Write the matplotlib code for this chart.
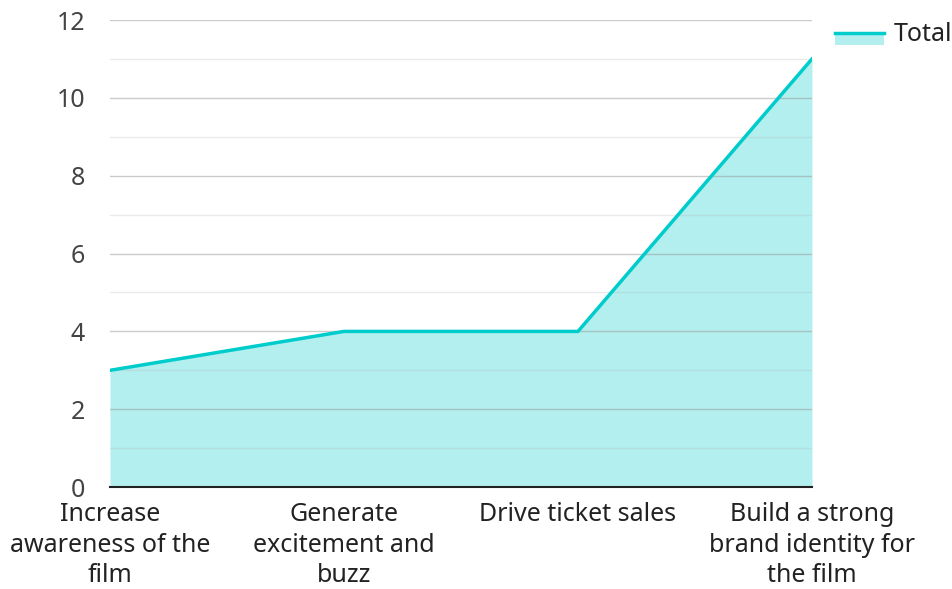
import matplotlib
matplotlib.use("Agg")
import matplotlib.pyplot as plt
from matplotlib.legend_handler import HandlerBase
from matplotlib.patches import Rectangle
from matplotlib.lines import Line2D

plt.rcParams["font.family"] = ["Noto Sans", "Open Sans", "DejaVu Sans"]

# ---- Data ---------------------------------------------------------------
categories = [
    "Increase\nawareness of the\nfilm",
    "Generate\nexcitement and\nbuzz",
    "Drive ticket sales",
    "Build a strong\nbrand identity for\nthe film",
]
totals = [3, 4, 4, 11]

LINE_C = "#00CCCC"
FILL_C = "#B2EFEE"
FS = 18


class LineOverPatch(HandlerBase):
    # legend key: line sitting on top of a fill swatch
    def create_artists(self, legend, orig, xd, yd, w, h, fs, trans):
        r = Rectangle((xd, yd - h * 0.25), w, h * 0.75, fc=FILL_C, ec="none",
                      transform=trans)
        ln = Line2D([xd, xd + w], [yd + h * 0.45, yd + h * 0.45], color=LINE_C,
                    lw=2.5, transform=trans)
        return [r, ln]


# ---- Plot ---------------------------------------------------------------
fig = plt.figure(figsize=(9.53, 5.89), dpi=100)
ax = fig.add_axes([0.1154, 0.173, 0.7366, 0.793])

x = list(range(len(categories)))
ax.fill_between(x, totals, 0, color=FILL_C, lw=0, zorder=1)
ln, = ax.plot(x, totals, color=LINE_C, lw=2.5, zorder=3, label="Total")

ax.set_xlim(0, 3)
ax.set_ylim(0, 12)
ax.set_yticks(range(0, 13, 2))
ax.set_xticks(x)
ax.set_xticklabels(categories, fontsize=FS, color="#222222", linespacing=1.27)

for y in range(1, 12, 2):
    ax.axhline(y, color="#bbbbbb", alpha=0.3, lw=1, zorder=2)
for y in range(2, 13, 2):
    ax.axhline(y, color="#999999", alpha=0.5, lw=1, zorder=2)

for s in ["top", "right", "left"]:
    ax.spines[s].set_visible(False)
ax.spines["bottom"].set_color("#222222")
ax.spines["bottom"].set_linewidth(1.5)
ax.spines["bottom"].set_zorder(4)

ax.tick_params(axis="y", which="both", length=0, labelsize=FS,
               labelcolor="#444444", pad=18)
ax.tick_params(axis="x", length=0, pad=11)

fig.legend(handles=[ln], handler_map={Line2D: LineOverPatch()},
           loc="upper left", bbox_to_anchor=(835 / 953, 1 - 22 / 589),
           frameon=False, borderpad=0, borderaxespad=0,
           fontsize=FS, handlelength=1.95, handletextpad=0.42,
           labelcolor="#222222")

fig.savefig("out.png", dpi=100)
